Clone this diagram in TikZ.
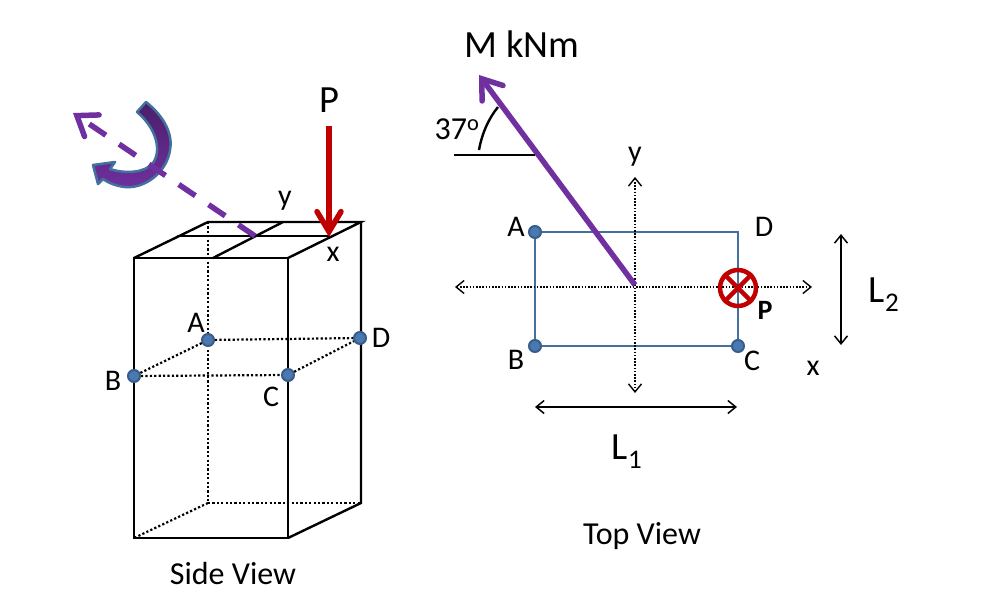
\documentclass[tikz,border=0pt]{standalone}
\usepackage{fontspec}
\setmainfont{Carlito}
\usetikzlibrary{arrows.meta}

\definecolor{momentpurple}{HTML}{7030A0}
\definecolor{pointblue}{HTML}{41719C}
\definecolor{pointfill}{HTML}{4A78B0}
\definecolor{pointedge}{HTML}{385D8A}
\definecolor{loadred}{HTML}{C00000}

\tikzset{
  label/.style={inner sep=0pt,font=\fontsize{30}{30}\selectfont},
  biglabel/.style={inner sep=0pt,font=\fontsize{38.5}{38.5}\selectfont},
  viewlabel/.style={inner sep=0pt,font=\fontsize{32}{32}\selectfont},
  smalllabel/.style={inner sep=0pt,font=\fontsize{28}{28}\selectfont},
  pnt/.style={circle,draw=pointedge,fill=pointfill,line width=2pt,inner sep=0pt,minimum size=12pt},
  edgeline/.style={line width=2.4pt,line cap=round},
  hidden/.style={line width=2.2pt,dash pattern=on 2.2pt off 2.2pt},
  axis/.style={line width=1.4pt,dash pattern=on 1.6pt off 1.6pt,{Straight Barb[length=8pt,width=13pt]}-{Straight Barb[length=8pt,width=13pt]}},
  dimline/.style={line width=1.5pt,{Straight Barb[length=8pt,width=13pt]}-{Straight Barb[length=8pt,width=13pt]}},
  momentline/.style={draw=momentpurple,line width=5.5pt,-{Straight Barb[length=18pt,width=26pt,line cap=round]}}
}

\begin{document}
\begin{tikzpicture}[x=1pt,y=-1pt]
  \useasboundingbox (0,0) rectangle (1003,601);

  % side view
  \coordinate (ftl) at (134,258);
  \coordinate (ftr) at (288,258);
  \coordinate (fbl) at (134,538);
  \coordinate (fbr) at (288,538);
  \coordinate (btl) at (208,222);
  \coordinate (btr) at (361,222);
  \coordinate (bbl) at (208,503);
  \coordinate (bbr) at (361,503);
  \coordinate (crossa) at (178,236);
  \coordinate (crossb) at (329,236);
  \coordinate (crossc) at (213,258);
  \coordinate (crossd) at (283,222);
  \coordinate (mid) at (255,236);
  \coordinate (mtip) at (73,113);
  \coordinate (ptop) at (329,126);
  \coordinate (pend) at (329,237);

  \draw[edgeline] (ftl) -- (ftr) -- (fbr) -- (fbl) -- cycle;
  \draw[edgeline] (ftl) -- (btl) -- (btr) -- (ftr);
  \draw[edgeline] (btr) -- (bbr) -- (fbr);
  \draw[edgeline] (crossa) -- (crossb);
  \draw[edgeline] (crossc) -- (crossd);
  \draw[hidden] (btl) -- (bbl);
  \draw[hidden] (bbl) -- (bbr);
  \draw[hidden] (bbl) -- (fbl);

  \node[pnt] (sa) at (208,340) {};
  \node[pnt] (sd) at (360,338) {};
  \node[pnt] (sb) at (134,376) {};
  \node[pnt] (sc) at (288,375) {};
  \draw[hidden] (sa) -- (sd);
  \draw[hidden] (sb) -- (sc);
  \draw[hidden] (sa) -- (sb);
  \draw[hidden] (sc) -- (sd);

  % curved moment
  \draw[draw=pointblue,top color=momentpurple!65!black,bottom color=momentpurple,line width=2.5pt,line join=round]
    (137,112) -- (146,102)
    .. controls (165,117) and (173,135) .. (170,150)
    .. controls (167,172) and (145,189) .. (125,187)
    .. controls (115,186) and (107,182) .. (103,179)
    -- (98,184) -- (93,165) -- (115,162) -- (110,169)
    .. controls (125,174) and (145,173) .. (153,163)
    .. controls (162,150) and (156,128) .. cycle;
  \draw[momentline,dash pattern=on 20pt off 16pt] (mid) -- (mtip);

  \draw[draw=loadred,line width=5.5pt,-{Straight Barb[length=20pt,width=24pt,line cap=round]}] (ptop) -- (pend);

  \node[biglabel] (plabel) at (329,100) {P};
  \node[label] (ylabel) at (285,201) {y};
  \node[label] (xlabel) at (333,254) {x};
  \node[label] (alabel) at (196,323) {A};
  \node[label] (blabel) at (113,381) {B};
  \node[label] (clabel) at (271,397) {C};
  \node[label] (dlabel) at (381,338) {D};
  \node[viewlabel] (sideview) at (233,573) {Side View};

  % top view
  \node[pnt] (ta) at (535,232) {};
  \node[pnt] (tb) at (535,346) {};
  \node[pnt] (tc) at (738,346) {};
  \coordinate (td) at (738,232);
  \draw[draw=pointblue,line width=2.5pt] (ta) -- (td) -- (tc) -- (tb) -- (ta);

  \coordinate (xleft) at (455,287);
  \coordinate (xright) at (812,287);
  \coordinate (ytop) at (635,177);
  \coordinate (ybot) at (635,393);
  \draw[axis] (xleft) -- (xright);
  \draw[axis] (ytop) -- (ybot);

  \coordinate (mstart) at (635,285);
  \coordinate (mend) at (479,75);
  \draw[momentline] (mstart) -- (mend);

  \coordinate (anga) at (454,155);
  \coordinate (angb) at (535,155);
  \coordinate (arca) at (479,150);
  \coordinate (arcb) at (498,107);
  \draw[line width=2.4pt] (anga) -- (angb);
  \draw[line width=2.4pt] (arca) .. controls (482,133) and (489,118) .. (arcb);

  \node[circle,draw=loadred,line width=4.5pt,inner sep=0pt,minimum size=36pt] (pcircle) at (738,288) {};
  \draw[draw=loadred,line width=4.5pt] (pcircle.45) -- (pcircle.225);
  \draw[draw=loadred,line width=4.5pt] (pcircle.135) -- (pcircle.315);

  \coordinate (la) at (535,407);
  \coordinate (lb) at (737,407);
  \coordinate (lc) at (841,234);
  \coordinate (ld) at (841,345);
  \draw[dimline] (la) -- (lb);
  \draw[dimline] (lc) -- (ld);

  \node[biglabel] (mlabel) at (522,44) {M kNm};
  \node[viewlabel] (anglabel) at (457,129) {37\textsuperscript{o}};
  \node[label] (ytoplabel) at (635,157) {y};
  \node[label] (talabel) at (516,227) {A};
  \node[label] (tdlabel) at (764,227) {D};
  \node[label] (tblabel) at (516,360) {B};
  \node[label] (tclabel) at (752,361) {C};
  \node[label] (txlabel) at (813,368) {x};
  \node[smalllabel] (tplabel) at (765,310) {\textbf{P}};
  \node[biglabel] (lonelabel) at (627,452) {L\textsubscript{1}};
  \node[biglabel] (ltwolabel) at (884,295) {L\textsubscript{2}};
  \node[viewlabel] (topview) at (642,536) {Top View};
\end{tikzpicture}
\end{document}
